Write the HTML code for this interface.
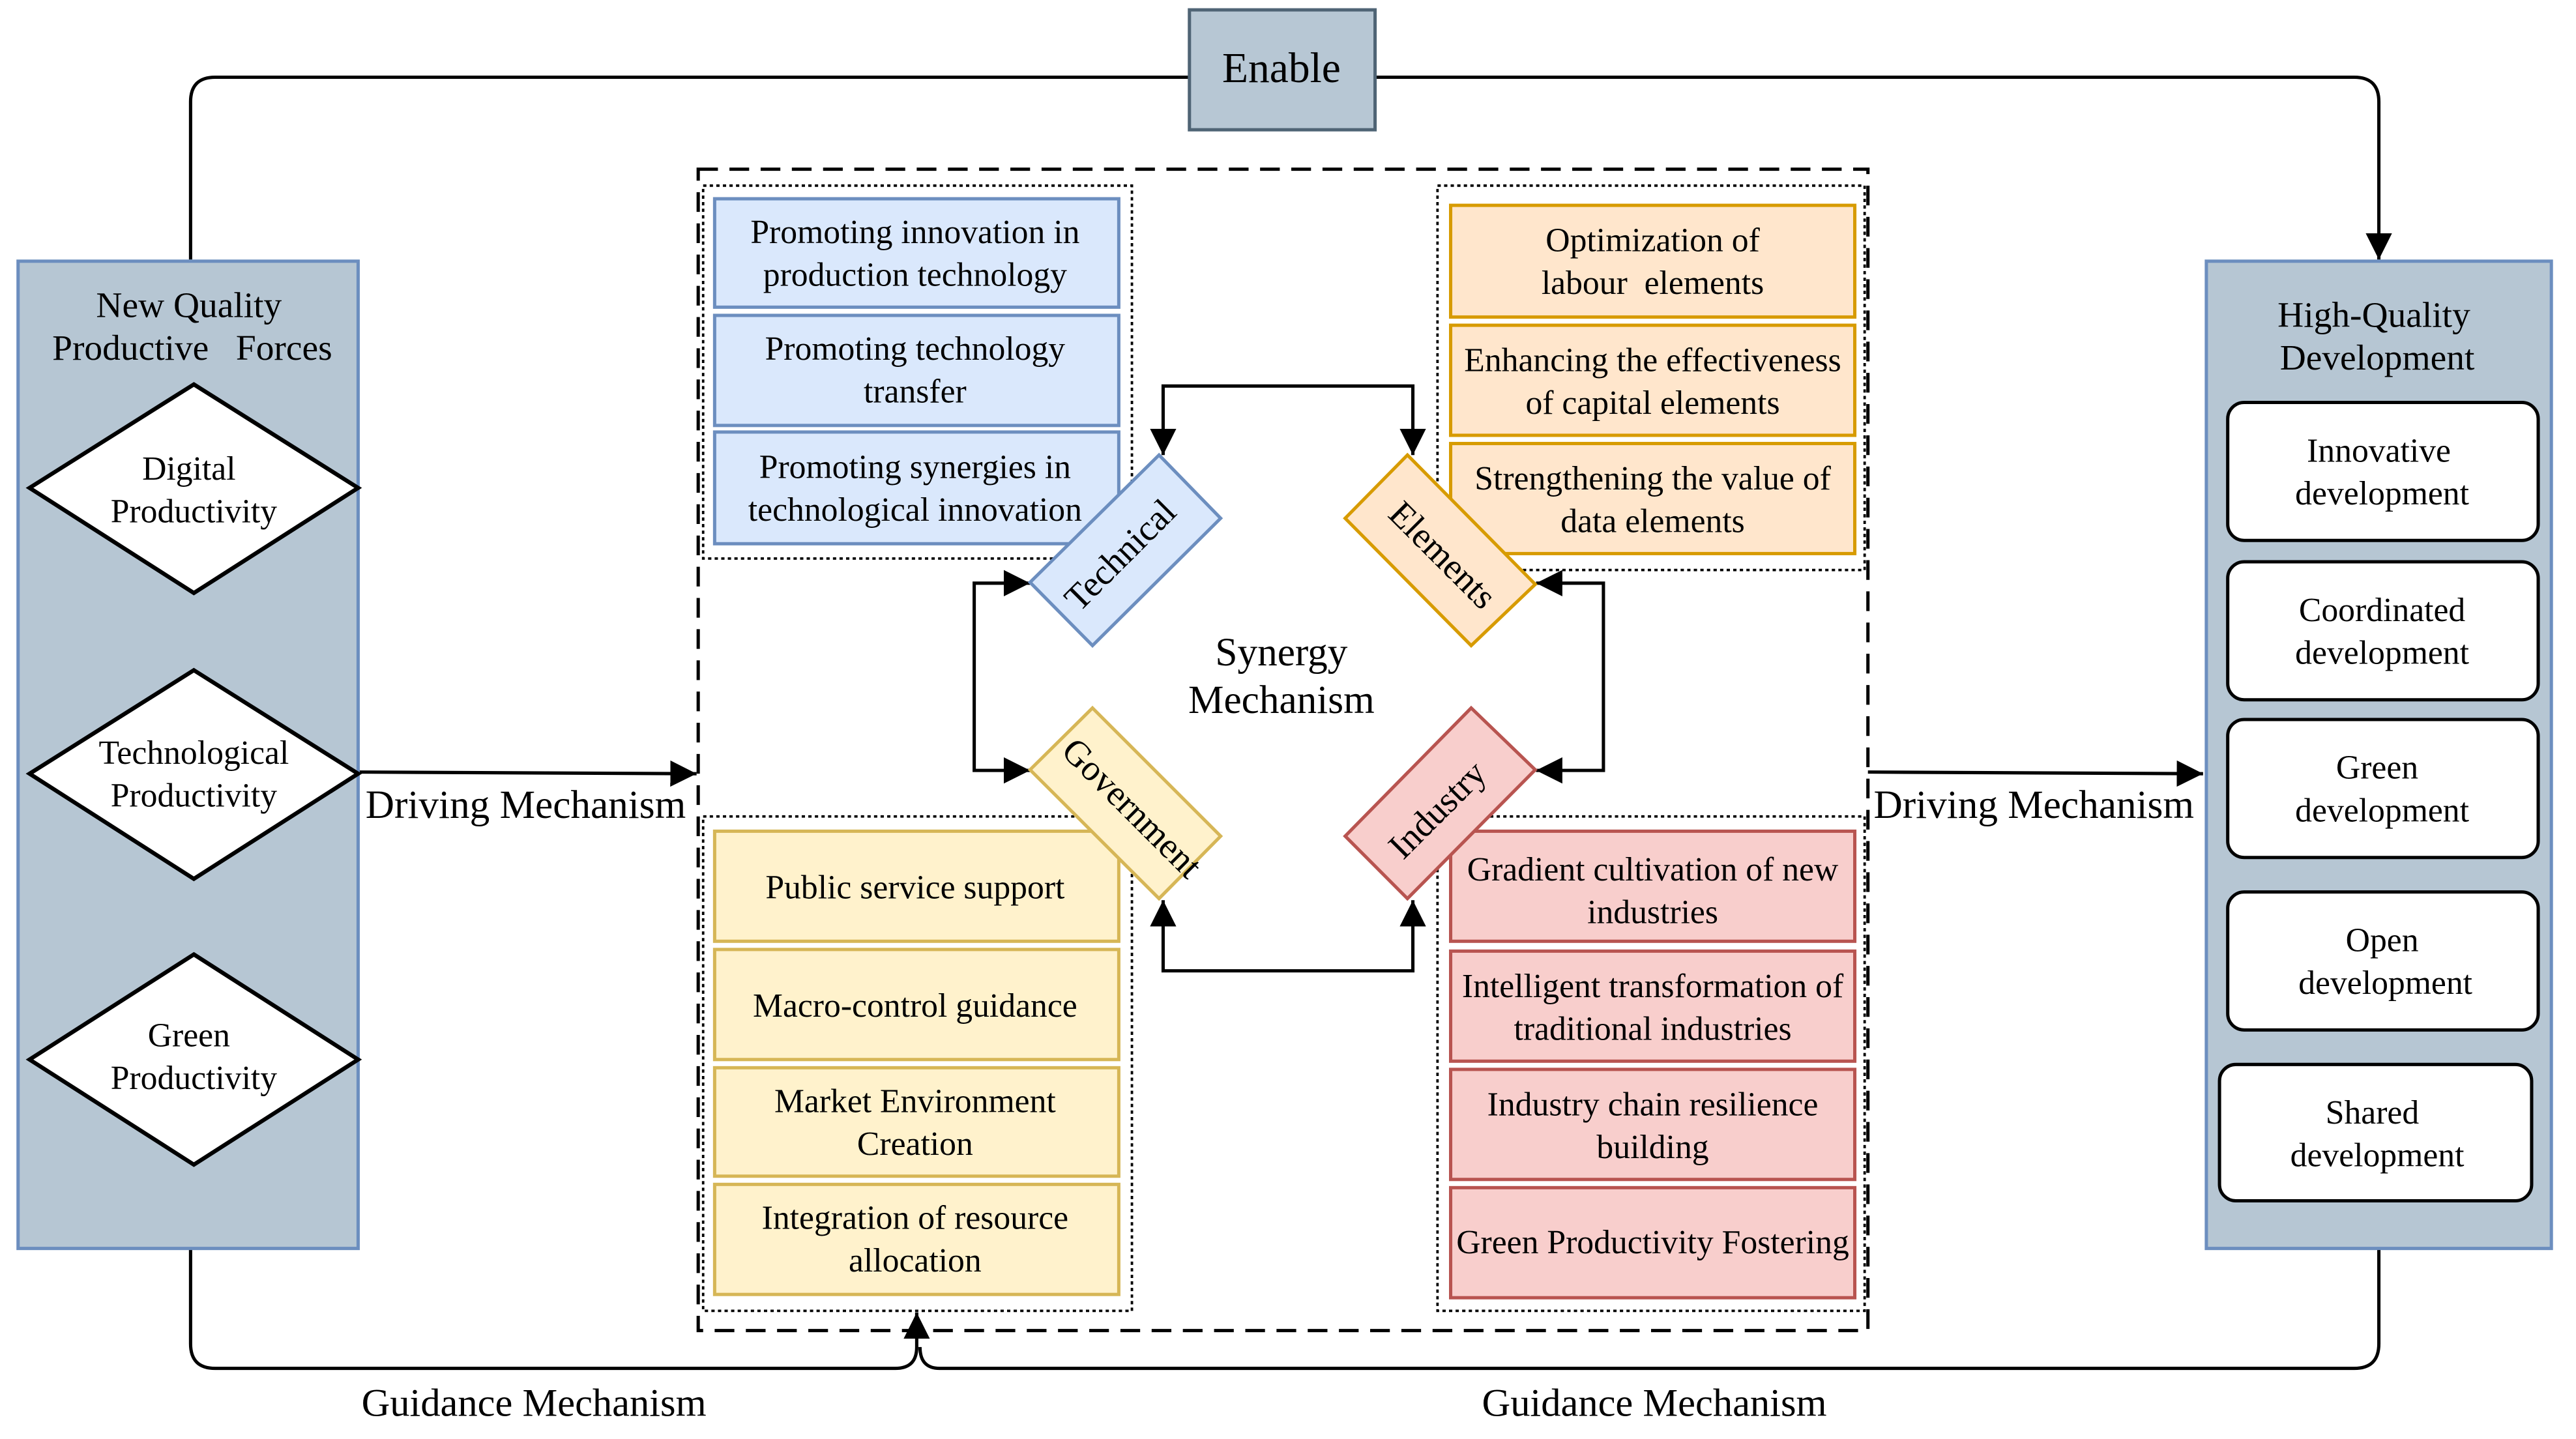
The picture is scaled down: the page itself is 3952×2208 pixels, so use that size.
<!DOCTYPE html>
<html><head><meta charset="utf-8"><style>html,body{margin:0;padding:0;background:#fff}svg{display:block}text{font-family:"Liberation Serif",serif;fill:#000}</style></head>
<body>
<svg width="3952" height="2208" viewBox="0 0 1568 876" preserveAspectRatio="none" xmlns="http://www.w3.org/2000/svg">
<defs>
<marker id="b" viewBox="0 0 10 10" refX="10" refY="5" markerWidth="16" markerHeight="16" markerUnits="userSpaceOnUse" orient="auto-start-reverse"><path d="M0,0 L10,5 L0,10 z" fill="#000"/></marker>
</defs>
<g fill="none" stroke="#000" stroke-width="2">
<path d="M116,158 V62 Q116,47 131,47 H724"/>
<path d="M837,47 H1433 Q1448,47 1448,62 V158" marker-end="url(#b)"/>
<path d="M218,470 L424,471" marker-end="url(#b)"/>
<path d="M1137,470 L1341,471" marker-end="url(#b)"/>
<path d="M116,760 V818 Q116,833 131,833 H545 Q558,833 558,820 V799" marker-end="url(#b)"/>
<path d="M1448,760 V818 Q1448,833 1433,833 H572 Q560,833 560,820"/>
<path d="M708,277 V235 H860 V277" marker-start="url(#b)" marker-end="url(#b)"/>
<path d="M708,548 V591 H860 V548" marker-start="url(#b)" marker-end="url(#b)"/>
<path d="M627,355 H593 V469 H627" marker-start="url(#b)" marker-end="url(#b)"/>
<path d="M935,355 H976 V469 H935" marker-start="url(#b)" marker-end="url(#b)"/>
</g>
<rect x="724" y="6" width="113" height="73" fill="#b7c7d4" stroke="#4f6475" stroke-width="2"/>
<text x="780" y="50" font-size="26" text-anchor="middle">Enable</text>
<rect x="11" y="159" width="207" height="601" fill="#b6c6d3" stroke="#6c8ebf" stroke-width="2"/>
<text x="115" y="193" font-size="22" text-anchor="middle">New Quality</text>
<text x="117" y="219" font-size="22" text-anchor="middle" xml:space="preserve">Productive   Forces</text>
<g fill="#fff" stroke="#000" stroke-width="2.5">
<polygon points="118,234 218,297 118,361 18,297"/>
<polygon points="118,408 218,471 118,535 18,471"/>
<polygon points="118,581 218,645 118,709 18,645"/>
</g>
<g font-size="20.5" text-anchor="middle">
<text x="115" y="292">Digital</text><text x="118" y="318">Productivity</text>
<text x="118" y="465">Technological</text><text x="118" y="491">Productivity</text>
<text x="115" y="637">Green</text><text x="118" y="663">Productivity</text>
</g>
<g font-size="24.3" text-anchor="middle">
<text x="320" y="498">Driving Mechanism</text>
<text x="1238" y="498">Driving Mechanism</text>
</g>
<g font-size="24" text-anchor="middle">
<text x="325" y="862">Guidance Mechanism</text>
<text x="1007" y="862">Guidance Mechanism</text>
</g>
<rect x="425" y="103" width="712" height="707" fill="none" stroke="#000" stroke-width="2" stroke-dasharray="12,7"/>
<g fill="none" stroke="#000" stroke-width="1.5" stroke-dasharray="2,2">
<rect x="428" y="113" width="261" height="227"/>
<rect x="875" y="113" width="260" height="234"/>
<rect x="428" y="497" width="261" height="301"/>
<rect x="875" y="497" width="260" height="301"/>
</g>
<g fill="#dae8fc" stroke="#6c8ebf" stroke-width="2">
<rect x="435" y="121" width="246" height="66"/><rect x="435" y="192" width="246" height="67"/><rect x="435" y="263" width="246" height="68"/>
</g>
<g fill="#ffe6cc" stroke="#d79b00" stroke-width="2">
<rect x="883" y="125" width="246" height="68"/><rect x="883" y="198" width="246" height="67"/><rect x="883" y="270" width="246" height="67"/>
</g>
<g fill="#fff2cc" stroke="#d6b656" stroke-width="2">
<rect x="435" y="506" width="246" height="67"/><rect x="435" y="578" width="246" height="67"/><rect x="435" y="650" width="246" height="66"/><rect x="435" y="721" width="246" height="67"/>
</g>
<g fill="#f8cecc" stroke="#b85450" stroke-width="2">
<rect x="883" y="506" width="246" height="67"/><rect x="883" y="579" width="246" height="67"/><rect x="883" y="651" width="246" height="67"/><rect x="883" y="723" width="246" height="67"/>
</g>
<g font-size="20.5" text-anchor="middle">
<text x="557" y="148">Promoting innovation in</text><text x="557" y="174">production technology</text>
<text x="557" y="219">Promoting technology</text><text x="557" y="245">transfer</text>
<text x="557" y="291">Promoting synergies in</text><text x="557" y="317">technological innovation</text>
<text x="1006" y="153">Optimization of</text><text x="1006" y="179" xml:space="preserve">labour  elements</text>
<text x="1006" y="226">Enhancing the effectiveness</text><text x="1006" y="252">of capital elements</text>
<text x="1006" y="298">Strengthening the value of</text><text x="1006" y="324">data elements</text>
<text x="557" y="547">Public service support</text>
<text x="557" y="619">Macro-control guidance</text>
<text x="557" y="677">Market Environment</text><text x="557" y="703">Creation</text>
<text x="557" y="748">Integration of resource</text><text x="557" y="774">allocation</text>
<text x="1006" y="536">Gradient cultivation of new</text><text x="1006" y="562">industries</text>
<text x="1006" y="607">Intelligent transformation of</text><text x="1006" y="633">traditional industries</text>
<text x="1006" y="679">Industry chain resilience</text><text x="1006" y="705">building</text>
<text x="1006" y="763">Green Productivity Fostering</text>
</g>
<polygon points="705.5,277 743,315.5 665,393 627,354.5" fill="#dae8fc" stroke="#6c8ebf" stroke-width="2"/>
<polygon points="856.7,277 934.5,355.7 895.5,393 818.8,315.5" fill="#ffe6cc" stroke="#d79b00" stroke-width="2"/>
<polygon points="665,431 743,509 705.5,547 627,468.6" fill="#fff2cc" stroke="#d6b656" stroke-width="2"/>
<polygon points="895.5,431 934.5,468.6 856.7,547 818.8,509" fill="#f8cecc" stroke="#b85450" stroke-width="2"/>
<g font-size="22" text-anchor="middle">
<text transform="translate(687,343) rotate(-45)">Technical</text>
<text transform="translate(873,343) rotate(45)">Elements</text>
<text transform="translate(684,497) rotate(45)">Government</text>
<text transform="translate(880,498) rotate(-45)">Industry</text>
</g>
<g font-size="24.3" text-anchor="middle">
<text x="780" y="405">Synergy</text><text x="780" y="434">Mechanism</text>
</g>
<rect x="1343" y="159" width="210" height="601" fill="#b6c6d3" stroke="#6c8ebf" stroke-width="2"/>
<text x="1445" y="199" font-size="22" text-anchor="middle">High-Quality</text>
<text x="1447" y="225" font-size="22" text-anchor="middle">Development</text>
<g fill="#fff" stroke="#000" stroke-width="2">
<rect x="1356" y="245" width="189" height="84" rx="10"/>
<rect x="1356" y="342" width="189" height="84" rx="10"/>
<rect x="1356" y="438" width="189" height="84" rx="10"/>
<rect x="1356" y="543" width="189" height="84" rx="10"/>
<rect x="1351" y="648" width="190" height="83" rx="10"/>
</g>
<g font-size="20.5" text-anchor="middle">
<text x="1448" y="281">Innovative</text><text x="1450" y="307">development</text>
<text x="1450" y="378">Coordinated</text><text x="1450" y="404">development</text>
<text x="1447" y="474">Green</text><text x="1450" y="500">development</text>
<text x="1450" y="579">Open</text><text x="1452" y="605">development</text>
<text x="1444" y="684">Shared</text><text x="1447" y="710">development</text>
</g>
</svg>
</body></html>
